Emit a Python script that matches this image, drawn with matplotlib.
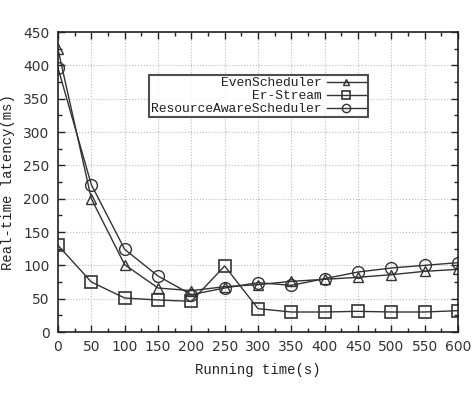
import matplotlib
matplotlib.use("Agg")
import matplotlib.pyplot as plt
from matplotlib.ticker import MultipleLocator

time_s = [0, 50, 100, 150, 200, 250, 300, 350, 400, 450, 500, 550, 600]
even_scheduler = [424, 200, 101, 66, 62, 68, 71, 76, 79, 82, 86, 91, 94]
er_stream = [130, 75, 51, 48, 46, 99, 35, 30, 30, 31, 30, 30, 32]
resource_aware = [396, 221, 124, 84, 56, 66, 74, 70, 80, 90, 96, 100, 104]

x_ticks = [0, 50, 100, 150, 200, 250, 300, 350, 400, 450, 500, 550, 600]
y_ticks = [0, 50, 100, 150, 200, 250, 300, 350, 400, 450]

mono = ["Liberation Mono", "DejaVu Sans Mono"]

fig = plt.figure(figsize=(4.74, 3.99), dpi=100)
ax = fig.add_axes([58/474, 1-332/399, 400/474, 300/399])

c = "#333333"
ax.plot(time_s, even_scheduler, color=c, lw=1.0, marker="^", ms=6.5,
        mfc="none", mec=c, mew=1.0, label="EvenScheduler")
ax.plot(time_s, er_stream, color=c, lw=1.0, marker="s", ms=8.5,
        mfc="none", mec=c, mew=1.2, label="Er-Stream")
ax.plot(time_s, resource_aware, color=c, lw=1.0, marker="o", ms=8.5,
        mfc="none", mec=c, mew=1.0, label="ResourceAwareScheduler")

ax.set_xlim(0, 600)
ax.set_ylim(0, 450)
ax.set_xticks(x_ticks)
ax.set_yticks(y_ticks)
ax.xaxis.set_minor_locator(MultipleLocator(25))
ax.yaxis.set_minor_locator(MultipleLocator(25))
ax.tick_params(which="both", direction="in", top=True, right=True, width=1.0, color="#222222")
ax.tick_params(which="major", length=5, labelsize=10, pad=6)
ax.tick_params(which="minor", length=3)
ax.grid(True, which="major", ls=":", lw=0.8, color="#bbbbbb")
for s in ax.spines.values():
    s.set_linewidth(1.2)
    s.set_color("#222222")
for lab in ax.get_xticklabels() + ax.get_yticklabels():
    lab.set_color("#333333")

ax.set_xlabel("Running time(s)", fontfamily=mono, fontsize=10, color="#222222", labelpad=6)
ax.set_ylabel("Real-time latency(ms)", fontfamily=mono, fontsize=10, color="#222222", labelpad=6)

leg = ax.legend(loc="upper left", bbox_to_anchor=(149/474, 1-75/399),
                bbox_transform=fig.transFigure, markerfirst=False, markerscale=0.7,
                prop={"family": mono, "size": 9.4}, frameon=True, fancybox=False,
                borderpad=0.15, labelspacing=0.08, handlelength=3.0,
                handletextpad=0.4, borderaxespad=0)
leg.get_frame().set_edgecolor("#222222")
leg.get_frame().set_linewidth(1.5)
for t in leg.get_texts():
    t.set_ha("right")
    t.set_color("#222222")
leg._legend_box.align = "right"

fig.savefig("out.png", dpi=100)
